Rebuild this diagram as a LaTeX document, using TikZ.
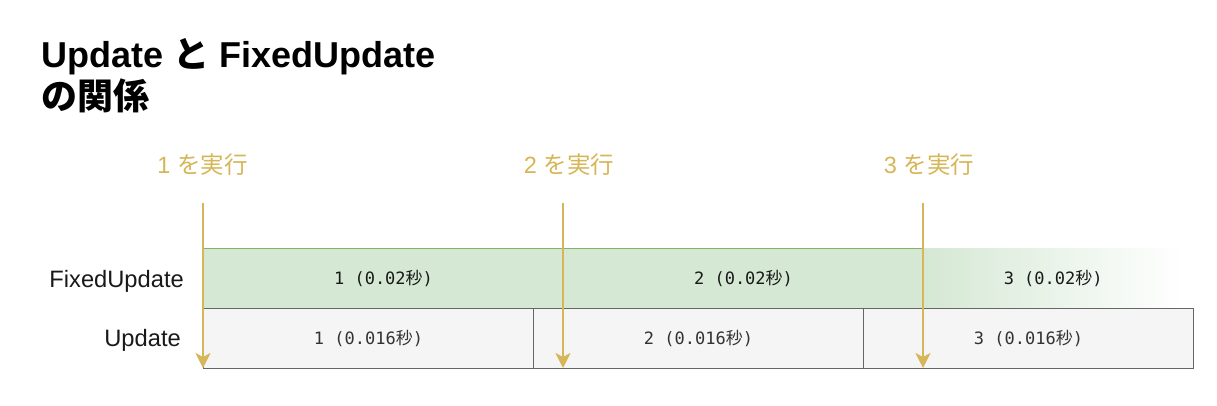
\documentclass[tikz,border=0pt]{standalone}
\usepackage{fontspec}
\setmainfont{Liberation Sans}
\setmonofont{DejaVu Sans Mono}
\newfontfamily\cjk{Noto Sans CJK JP}
\usetikzlibrary{arrows.meta}
\definecolor{gold}{HTML}{D6B656}
\definecolor{gfill}{HTML}{D5E8D4}
\definecolor{gline}{HTML}{82B366}
\definecolor{sfill}{HTML}{F5F5F5}
\definecolor{sline}{HTML}{666666}
\definecolor{txt}{HTML}{333333}
\begin{document}
\begin{tikzpicture}[x=1pt,y=-1pt,
  boxtext/.style={font=\ttfamily\fontsize{17}{20}\selectfont},
  fixbox/.style={boxtext,draw=gline,fill=gfill,line width=1pt,minimum height=60pt,minimum width=360pt,inner sep=0pt,anchor=north west,text=black!90},
  fadebox/.style={boxtext,left color=gfill,right color=white,minimum height=60pt,minimum width=260pt,inner sep=0pt,anchor=north west,text=black!90},
  updbox/.style={boxtext,draw=sline,fill=sfill,line width=1pt,minimum height=60pt,minimum width=330pt,inner sep=0pt,anchor=north west,text=txt},
  runlabel/.style={text=gold,font=\fontsize{23.5}{27}\selectfont,inner sep=0pt,anchor=base},
  rowlabel/.style={text=black!90,font=\fontsize{23.7}{27}\selectfont,inner sep=0pt,anchor=base east},
  titletext/.style={font=\bfseries\fontsize{36}{42}\selectfont,inner sep=0pt,anchor=base west},
  runarrow/.style={draw=gold,line width=2pt,-{Stealth[length=15pt,width=15pt,inset=4pt]}}
]
\useasboundingbox[fill=white] (0,0) rectangle (1217,405);

% title
\node[titletext] (t1) at (41,67) {Update {\cjk\bfseries と} FixedUpdate};
\node[titletext] (t2) at (41,109) {\cjk\bfseries の関係};

% row labels
\node[rowlabel] (lfix) at (184,287) {FixedUpdate};
\node[rowlabel] (lupd) at (181,346) {Update};

% FixedUpdate row
\node[fixbox] (f1) at (203,248) {1 (0.02{\cjk 秒})};
\node[fixbox] (f2) at (563,248) {2 (0.02{\cjk 秒})};
\node[fadebox] (f3) at (923,248) {3 (0.02{\cjk 秒})};

% Update row
\node[updbox] (u1) at (203,308) {1 (0.016{\cjk 秒})};
\node[updbox] (u2) at (533,308) {2 (0.016{\cjk 秒})};
\node[updbox] (u3) at (863,308) {3 (0.016{\cjk 秒})};

% run labels
\node[runlabel] (r1) at (202.5,173) {1 {\cjk を実行}};
\node[runlabel] (r2) at (569,173) {2 {\cjk を実行}};
\node[runlabel] (r3) at (929,173) {3 {\cjk を実行}};

% arrows
\coordinate (a1s) at (203,203);
\coordinate (a1e) at (203,368);
\coordinate (a2s) at (563,203);
\coordinate (a2e) at (563,368);
\coordinate (a3s) at (923,203);
\coordinate (a3e) at (923,368);
\draw[runarrow] (a1s) -- (a1e);
\draw[runarrow] (a2s) -- (a2e);
\draw[runarrow] (a3s) -- (a3e);
\end{tikzpicture}
\end{document}
